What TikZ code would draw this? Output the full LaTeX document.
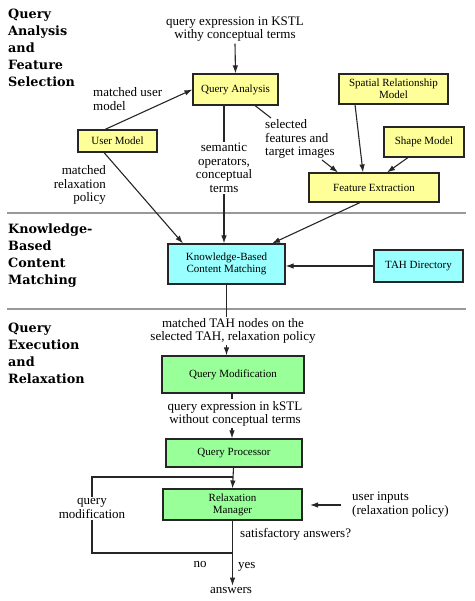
\documentclass[tikz,border=0pt]{standalone}
\usepackage{fontspec}
\setmainfont{Liberation Serif}
\newfontfamily\headfont{DejaVu Serif}
\usetikzlibrary{arrows.meta}
\definecolor{boxyellow}{HTML}{FFFF99}
\definecolor{boxcyan}{HTML}{99FFFF}
\definecolor{boxgreen}{HTML}{99FF99}
\definecolor{sepgray}{HTML}{999999}
\tikzset{
  box/.style={draw=black!85, line width=1.1pt, inner sep=1pt, align=center,
    font=\fontsize{11}{12}\selectfont},
  ybox/.style={box, fill=boxyellow},
  cbox/.style={box, fill=boxcyan},
  gbox/.style={box, fill=boxgreen},
  lbl/.style={inner sep=1pt, font=\fontsize{13}{13.5}\selectfont},
  head/.style={inner sep=0pt, anchor=north west, align=left,
    font=\headfont\bfseries\fontsize{12.8}{17}\selectfont},
  conn/.style={line width=1.1pt, draw=black!85},
  arr/.style={conn, -{Latex[length=8pt,width=5.5pt]}},
  sepline/.style={line width=2.6pt, draw=sepgray}
}
\begin{document}
\begin{tikzpicture}[x=1pt,y=-1pt]
\useasboundingbox (0,0) rectangle (474,601);
% separators
\draw[sepline] (7,213) -- (466,213);
\draw[sepline] (7,309) -- (466,309);
% headings
\node[head] (h1) at (8,8.5) {Query\\Analysis\\and\\Feature\\Selection};
\node[head] (h2) at (8,223.5) {Knowledge-\\Based\\Content\\Matching};
\node[head] (h3) at (8,322.5) {Query\\Execution\\and\\Relaxation};
% boxes
\node[ybox, minimum width=85, minimum height=31] (qa) at (235.5,89.5) {Query Analysis};
\node[ybox, minimum width=79, minimum height=22] (um) at (117.5,141) {User Model};
\node[ybox, minimum width=109, minimum height=30] (sp) at (393.5,89) {Spatial Relationship\\Model};
\node[ybox, minimum width=80, minimum height=30] (sh) at (424,142) {Shape Model};
\node[ybox, minimum width=130, minimum height=29] (fe) at (374,187.5) {Feature Extraction};
\node[cbox, minimum width=117, minimum height=40] (kb) at (226.5,264) {Knowledge-Based\\Content Matching};
\node[cbox, minimum width=89, minimum height=32] (tah) at (418.5,266) {TAH Directory};
\node[gbox, minimum width=142, minimum height=37] (qm) at (233,374.5) {Query Modification};
\node[gbox, minimum width=136, minimum height=28] (qp) at (234,453) {Query Processor};
\node[gbox, minimum width=139, minimum height=31] (rm) at (232.5,504.5) {Relaxation\\Manager};
% labels
\node[lbl, align=center] (qin) at (235,29) {query expression in KSTL\\withy conceptual terms};
\node[lbl, align=left, anchor=west] (mum) at (92,99) {matched user\\model};
\node[lbl, align=right, anchor=east] (mrp) at (107,185) {matched\\relaxation\\policy};
\node[lbl, align=center] (sem) at (224,168) {semantic\\operators,\\conceptual\\terms};
\node[lbl, align=left, anchor=west] (sel) at (264,139) {selected\\features and\\target images};
\node[lbl, align=center] (mt) at (233,331) {matched TAH nodes on the\\selected TAH, relaxation policy};
\node[lbl, align=center] (qe) at (235,414) {query expression in kSTL\\without conceptual terms};
\node[lbl, align=center] (qmod) at (92,508.5) {query\\modification};
\node[lbl, anchor=west] (sat) at (239,534) {satisfactory answers?};
\node[lbl] (no) at (200,564) {no};
\node[lbl, anchor=west] (yes) at (237,567) {yes};
\node[lbl] (ans) at (231,590) {answers};
\node[lbl, align=left, anchor=west] (ui) at (351,504.5) {user inputs\\(relaxation policy)};
% connectors top section
\draw[arr] (qin.south) ++(0,1) -- (qa.north);
\draw[arr] ([xshift=-12.5pt]um.north) -- (qa.west);
\draw[arr] ([xshift=-13.5pt]um.south) -- ([xshift=-43.5pt]kb.north);
\draw[conn] (qa.south -| sem) -- (sem.north);
\draw[arr] (sem.south) -- (sem.south |- kb.north);
\coordinate (selA) at (271,118);
\coordinate (selB) at (322,160);
\draw[conn] ([xshift=19.5pt]qa.south) -- (selA);
\draw[arr] (selB) -- ([xshift=-36pt]fe.north);
\draw[arr] ([xshift=-38.5pt]sp.south) -- ([xshift=-11pt]fe.north);
\draw[arr] ([xshift=-16pt]sh.south) -- ([xshift=13pt]fe.north);
\draw[arr] ([xshift=-14pt]fe.south) -- ([xshift=45.5pt]kb.north);
\draw[arr] (tah.west) -- (tah.west -| kb.east);
% middle
\draw[conn] (kb.south) -- (kb.south |- mt.north);
\draw[arr] (mt.south -| kb.south) -- (kb.south |- qm.north);
\draw[conn] ([xshift=-1pt]qm.south) -- ++(0,5);
\draw[arr] ([xshift=-1pt]qm.south |- qe.south) -- ([xshift=-1pt]qm.south |- qp.north);
\draw[arr] ([xshift=-0.5pt]qp.south) -- (rm.north);
% loop
\coordinate (lpA) at (233,477);
\coordinate (lpB) at (233,553);
\draw[conn] (lpA) -- (lpA -| qmod) -- (qmod.north);
\draw[conn] (qmod.south) -- (lpB -| qmod) -- (lpB);
\draw[arr] (rm.south) -- (rm.south |- ans.north);
\coordinate (uiA) at (341,505);
\coordinate (uiB) at (310,505);
\draw[arr] (uiA) -- (uiB);
\end{tikzpicture}
\end{document}
